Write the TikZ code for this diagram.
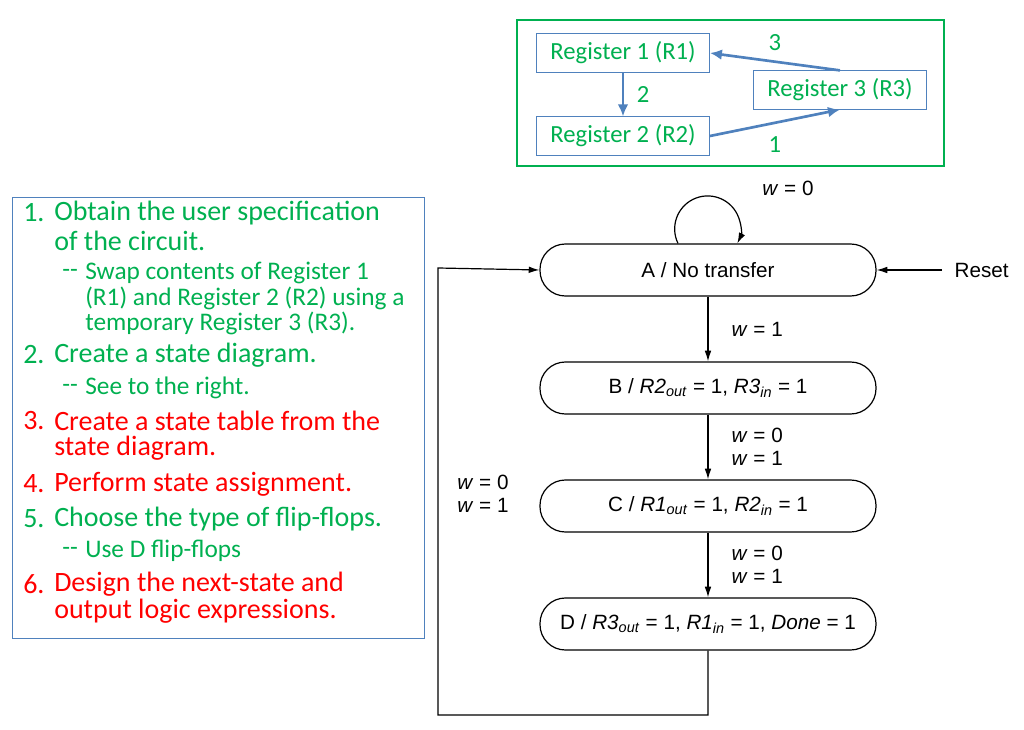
\documentclass[tikz,border=0pt]{standalone}
\usepackage{fontspec}
\setmainfont{Liberation Sans}
\newfontfamily\calib{Carlito}
\usetikzlibrary{positioning,arrows.meta}
\definecolor{pgreen}{RGB}{0,176,80}
\definecolor{pblue}{RGB}{79,129,189}
\definecolor{pred}{RGB}{255,0,0}
\newcommand{\sig}[2]{\textit{#1}\textsubscript{\textit{#2}}}
\tikzset{
  reg/.style={draw=pblue,fill=white,text=pgreen,font=\calib\fontsize{18.5}{21}\selectfont,
    minimum width=130pt,minimum height=29pt,inner sep=0pt},
  rarr/.style={draw=pblue,line width=2pt,-{Latex[length=9pt,width=8pt]}},
  rlbl/.style={text=pgreen,font=\calib\fontsize{18.5}{21}\selectfont},
  state/.style={draw,rounded corners=19pt,minimum width=252pt,minimum height=39pt,
    font=\fontsize{15.5}{18}\selectfont,line width=0.9pt},
  tarr/.style={line width=0.9pt,-{Latex[length=8pt,width=5pt]}},
  lbl/.style={font=\fontsize{15.5}{18}\selectfont},
  item/.style={anchor=west,font=\calib\fontsize{21}{24}\selectfont,inner sep=0pt},
  sub/.style={anchor=west,font=\calib\fontsize{19}{22}\selectfont,inner sep=0pt,text=pgreen}
}
\begin{document}
\begin{tikzpicture}[x=0.75pt,y=-0.75pt]
  \useasboundingbox (0,0) rectangle (1024,730);

  % register swap
  \draw[pgreen,line width=2.2pt] (517,20) rectangle (944,166);
  \node[reg] (r1) at (623,53) {Register 1 (R1)};
  \node[reg] (r2) at (623,136) {Register 2 (R2)};
  \node[reg] (r3) at (840,90) {Register 3 (R3)};
  \draw[rarr] (r3.north) -- (r1.east) node[rlbl,pos=0.5,above=4pt] {3};
  \draw[rarr] (r1.south) -- (r2.north) node[rlbl,midway,right=6pt] {2};
  \draw[rarr] (r2.east) -- (r3.south) node[rlbl,pos=0.5,below=6pt] {1};

  % steps
  \draw[pblue] (12,197) rectangle (424,638);
  \node[item,text=pgreen] at (23,213) {1.};
  \node[item,text=pgreen] at (54,213) {Obtain the user specification};
  \node[item,text=pgreen] at (54,241) {of the circuit.};
  \node[sub] at (62,273) {--};
  \node[sub] at (85,273) {Swap contents of Register 1};
  \node[sub] at (85,298) {(R1) and Register 2 (R2) using a};
  \node[sub] at (85,323) {temporary Register 3 (R3).};
  \node[item,text=pgreen] at (23,355) {2.};
  \node[item,text=pgreen] at (54,355) {Create a state diagram.};
  \node[sub] at (62,388) {--};
  \node[sub] at (85,388) {See to the right.};
  \node[item,text=pred] at (23,421) {3.};
  \node[item,text=pred] at (54,421) {Create a state table from the};
  \node[item,text=pred] at (54,448) {state diagram.};
  \node[item,text=pred] at (23,484) {4.};
  \node[item,text=pred] at (54,484) {Perform state assignment.};
  \node[item,text=pgreen] at (23,519) {5.};
  \node[item,text=pgreen] at (54,519) {Choose the type of flip-flops.};
  \node[sub] at (62,551) {--};
  \node[sub] at (85,551) {Use D flip-flops};
  \node[item,text=pred] at (23,584) {6.};
  \node[item,text=pred] at (54,584) {Design the next-state and};
  \node[item,text=pred] at (54,611) {output logic expressions.};

  % state diagram
  \node[state] (A) at (708,270) {A / No transfer};
  \node[state] (B) at (708,388) {B / \sig{R2}{out} = 1, \sig{R3}{in} = 1};
  \node[state] (C) at (708,506) {C / \sig{R1}{out} = 1, \sig{R2}{in} = 1};
  \node[state] (D) at (708,624) {D / \sig{R3}{out} = 1, \sig{R1}{in} = 1, \textit{Done} = 1};

  \draw[tarr] (A.north) ++(-30,0) arc[start angle=-206,end angle=26,radius=33];
  \node[lbl] at (788,188) {\textit{w} = 0};

  \coordinate (rs) at (942,270);
  \node[lbl,right=6pt of rs] {Reset};
  \draw[tarr] (rs) -- (A.east);

  \draw[tarr] (A) -- (B) node[lbl,pos=0.5,right=14pt] {\textit{w} = 1};
  \draw[tarr] (B) -- (C) node[lbl,pos=0.5,right=14pt,align=left] {\textit{w} = 0\\[-1pt]\textit{w} = 1};
  \draw[tarr] (C) -- (D) node[lbl,pos=0.5,right=14pt,align=left] {\textit{w} = 0\\[-1pt]\textit{w} = 1};

  \coordinate (c1) at (708,715);
  \coordinate (c2) at (438,715);
  \coordinate (c3) at (438,268);
  \draw[tarr] (D.south) -- (c1) -- (c2) -- (c3) -- (A.west);
  \node[lbl,align=left] at (483,494) {\textit{w} = 0\\[-1pt]\textit{w} = 1};
\end{tikzpicture}
\end{document}
